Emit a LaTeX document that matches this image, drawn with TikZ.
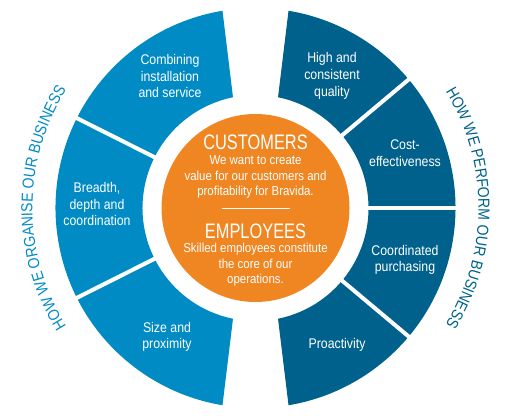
\documentclass[tikz,border=0pt]{standalone}
\usepackage{fontspec}
\setmainfont{Liberation Sans}[FakeStretch=0.88]
\newfontfamily\titlefont{Liberation Sans}[FakeStretch=0.78]
\newcommand\curvefont{\fontsize{16}{18}\selectfont}
\usetikzlibrary{decorations.text}
\definecolor{lightblue}{RGB}{0,139,196}
\definecolor{darkblue}{RGB}{0,98,140}
\definecolor{bravorange}{RGB}{239,134,33}
\tikzset{
  seglabel/.style={text=white,align=center,font=\fontsize{14}{16.7}\selectfont},
  coretext/.style={text=white,align=center,font=\fontsize{13}{15.5}\selectfont},
  coretitle/.style={text=white,anchor=base,font=\titlefont\fontsize{21}{24}\selectfont}
}
\begin{document}
\begin{tikzpicture}[x=1pt,y=1pt]
                \useasboundingbox (0,0) rectangle (510,415);
                \begin{scope}[shift={(255.5,207)}]
                \fill[lightblue] (99.5:200) arc[start angle=99.5,end angle=260.5,radius=200]
                -- (258.5:113) arc[start angle=258.5,end angle=101.5,radius=113] -- cycle; % left half
                \fill[darkblue] (80.5:200) arc[start angle=80.5,end angle=-80.5,radius=200]
                -- (-78.5:113) arc[start angle=-78.5,end angle=78.5,radius=113] -- cycle; % right half
                \foreach \a in {153.3,206.7,40,0,-40}{\draw[white,line width=4] (\a:105)--(\a:210);
                }
                \fill[bravorange] (0,0) circle (94); % centre
                \node[coretitle] (cust) at (0,58) {CUSTOMERS};
                \node[coretext] (custtext) at (0,31) {We want to create\\value for our customers and\\profitability for Bravida.};
                \draw[white,line width=0.8] (-34,0)--(34,0);
                \node[coretitle] (empl) at (0,-30) {EMPLOYEES};
                \node[coretext] (empltext) at (0,-57) {Skilled employees constitute\\the core of our\\operations.};
                % segments
                \node[seglabel] (combining) at (-85.5,132) {Combining\\installation\\and service};
                \node[seglabel] (breadth) at (-158.5,4) {Breadth,\\depth and\\coordination};
                \node[seglabel] (size) at (-88.5,-129) {Size and\\proximity};
                \node[seglabel] (quality) at (76.5,132) {High and\\consistent\\quality};
                \node[seglabel] (cost) at (149.5,55) {Cost-\\effectiveness};
                \node[seglabel] (purchasing) at (149.5,-52) {Coordinated\\purchasing};
                \node[seglabel] (proactivity) at (81.5,-137) {Proactivity};
                % curved titles
                \path[decorate,decoration={text along path,text align=center,
                  text={|\curvefont\color{lightblue}|HOW WE ORGANISE OUR BUSINESS}}]
                  (215:223) arc[start angle=215,end angle=145,radius=223];
                \path[decorate,decoration={text along path,text align=center,
                  text={|\curvefont\color{darkblue}|HOW WE PERFORM OUR BUSINESS}}]
                  (35:223) arc[start angle=35,end angle=-35,radius=223];
                \end{scope}
            \end{tikzpicture}
\end{document}
